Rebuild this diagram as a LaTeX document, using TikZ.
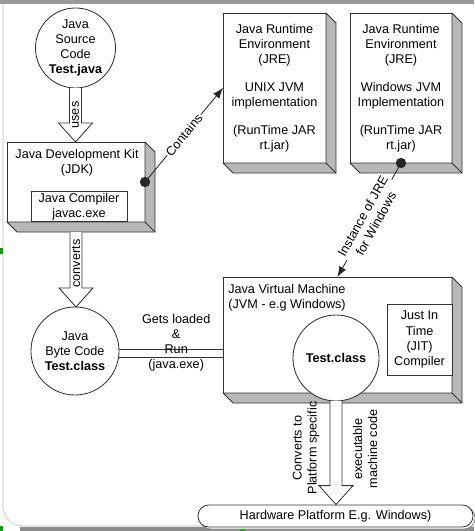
\documentclass[tikz,border=0pt]{standalone}
\usepackage{fontspec}
\setmainfont{Liberation Sans}
\usepackage{tikz}
\usetikzlibrary{arrows.meta, calc, positioning, shadows}

\tikzstyle{box3d} = [rectangle, draw=black!80, fill=white, outer sep=0pt, line width=0.6pt]
\tikzstyle{bubble} = [circle, draw=black!80, fill=white, outer sep=0pt, inner sep=0pt, line width=0.6pt, align=center]
\tikzstyle{inner} = [rectangle, draw=black!80, fill=white, outer sep=0pt, inner sep=0.5pt, line width=0.6pt, align=center]
\tikzstyle{side} = [fill=black!28, draw=black!80, line width=0.6pt, line join=round]
\tikzstyle{hollow} = [draw=black!80, fill=white, line width=0.6pt]
\tikzstyle{rail} = [draw=black!80, line width=0.6pt]
\tikzstyle{arrow} = [line width=0.6pt, draw=black!85, -{Latex[length=2.6mm, width=2mm]}]
\tikzstyle{dot} = [circle, fill=black!85, minimum size=2.6mm, inner sep=0pt]
\tikzstyle{hw} = [rectangle, rounded corners=2.7mm, draw=black!80, fill=white, line width=0.6pt,
                  minimum width=68.75mm, minimum height=5.5mm,
                  copy shadow={shadow xshift=0.5mm, shadow yshift=-0.5mm, draw=black!45, fill=white}]
\tikzset{font={\fontsize{9pt}{10.7pt}\selectfont}}

% grey side faces of a 3d box
\newcommand{\extrude}[1]{%
  \draw[side] (#1.north east) -- ++(10,10) -- ($(#1.south east)+(10,10)$)
    -- ($(#1.south west)+(10,10)$) -- (#1.south west) -- (#1.south east) -- cycle;
  \draw[side] (#1.south east) -- ++(10,10);}
% fat hollow arrow pointing down, from #1 to #2
\newcommand{\fatarrow}[2]{%
  \draw[hollow] ($(#1)+(-6,0)$) -- ($(#2)+(-6,-19)$) -- ($(#2)+(-17,-19)$) -- (#2)
    -- ($(#2)+(17,-19)$) -- ($(#2)+(6,-19)$) -- ($(#1)+(6,0)$);}

\begin{document}
\begin{tikzpicture}[x=0.025cm, y=-0.025cm]
    \useasboundingbox (0,0) rectangle (474,531);

    % window frame
    \fill[black!40] (0,0) rectangle (474,4);
    \draw[black!15, line width=0.8pt, rounded corners=5mm] (3,4) -- (3,526) -- (474,526);
    \fill[black!45] (20,527) rectangle (474,531);
    \fill[green!65!black] (0,526) rectangle (3,531);
    \fill[green!65!black] (240,527) rectangle (245,531);
    \fill[green!65!black] (0,248) rectangle (3,254);

    % left column
    \node (source) [bubble, minimum size=20mm] at (75.5,48) {Java\\Source\\Code\\\textbf{Test.java}};
    \node (jdk) [box3d, minimum width=34.5mm, minimum height=20mm] at (76,182) {};
    \extrude{jdk}
    \node (jdktitle) [align=center] at (77,163) {Java Development Kit\\(JDK)};
    \node (javac) [inner, minimum width=24mm, minimum height=7.5mm] at (79,206.5) {Java Compiler\\javac.exe};
    \node (bytecode) [bubble, minimum size=22mm] at (75,351) {Java\\Byte Code\\\textbf{Test.class}};

    % runtime environments
    \node (jreunix) [box3d, align=center, minimum width=25.75mm, minimum height=37.5mm] at (274.5,88)
        {Java Runtime\\Environment\\(JRE)\\[3.2mm]UNIX JVM\\implementation\\[3.2mm](RunTime JAR\\rt.jar)};
    \extrude{jreunix}
    \node (jrewin) [box3d, align=center, minimum width=25.5mm, minimum height=37.5mm] at (401,88)
        {Java Runtime\\Environment\\(JRE)\\[3.2mm]Windows JVM\\Implementation\\[3.2mm](RunTime JAR\\rt.jar)};
    \extrude{jrewin}

    % virtual machine
    \node (jvm) [box3d, minimum width=57.25mm, minimum height=29mm] at (337.5,335) {};
    \extrude{jvm}
    \node (jvmtitle) [anchor=north west, align=left, inner sep=0pt] at (228,284) {Java Virtual Machine\\(JVM - e.g Windows)};
    \node (jit) [inner, inner sep=1pt, minimum width=16.25mm, minimum height=17.75mm] at (419.5,339.5) {Just In\\Time\\(JIT)\\Compiler};
    \node (testclass) [bubble, minimum size=21.5mm] at (336,358) {\textbf{Test.class}};

    \node (hardware) [hw] at (335.5,516) {Hardware Platform E.g. Windows)};

    % connectors
    \fatarrow{source.south}{source.south |- jdk.north}
    \path (source.south) -- (source.south |- jdk.north) node[midway, rotate=90, inner sep=0pt] {uses};
    \fatarrow{$(jdk.south)+(0,10)$}{jdk.south |- bytecode.north}
    \path ($(jdk.south)+(0,10)$) -- (jdk.south |- bytecode.north) node[pos=.42, rotate=90, inner sep=0pt] {converts};
    \fatarrow{testclass.south}{testclass.south |- hardware.north}

    \draw[rail] ([yshift=0.5mm]bytecode.east) -- ([yshift=0.5mm]bytecode.east -| jvm.west);
    \draw[rail] ([yshift=-1.5mm]bytecode.east) -- ([yshift=-1.5mm]bytecode.east -| jvm.west);
    \path (bytecode.east) -- (bytecode.east -| jvm.west)
        node[pos=.55, yshift=2.1mm, align=center] {Gets loaded\\\&\\Run\\(java.exe)};

    \draw[arrow] (jdk.east) -- node[sloped, pos=.5, fill=white, inner sep=1pt] {Contains} (jreunix.west);
    \node (containsdot) [dot] at (jdk.east) {};
    \draw[arrow] (jrewin.south) -- node[sloped, pos=.5, fill=white, inner sep=1pt, align=center] {Instance of JRE\\for Windows} (jvm.north);
    \node (instancedot) [dot] at (jrewin.south) {};

    \node (convlabel) [rotate=90, align=center] at (306,448) {Converts to\\Platform specific};
    \node (execlabel) [rotate=90, align=center] at (365,449) {executable\\machine code};
\end{tikzpicture}
\end{document}
